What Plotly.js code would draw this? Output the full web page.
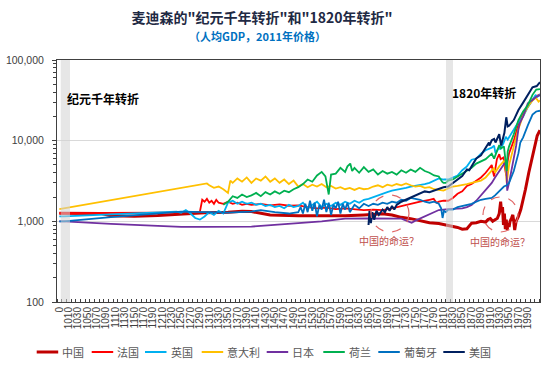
<!DOCTYPE html>
<html><head><meta charset="utf-8">
<script src="https://cdn.plot.ly/plotly-3.0.1.min.js"></script>
<style>html,body{margin:0;padding:0;background:#fff}#chart{width:554px;height:369px}</style>
</head><body><div id="chart"></div><script>
// x positions: "0" (year 1) sits at 990 on the axis
const tickYears = [990,1010,1030,1050,1070,1090,1110,1130,1150,1170,1190,1210,1230,1250,1270,1290,1310,1330,1350,1370,1390,1410,1430,1450,1470,1490,1510,1530,1550,1570,1590,1610,1630,1650,1670,1690,1710,1730,1750,1770,1790,1810,1830,1850,1870,1890,1910,1930,1950,1970,1990];
const tickLabels = ["0","1010","1030","1050","1070","1090","1110","1130","1150","1170","1190","1210","1230","1250","1270","1290","1310","1330","1350","1370","1390","1410","1430","1450","1470","1490","1510","1530","1550","1570","1590","1610","1630","1650","1670","1690","1710","1730","1750","1770","1790","1810","1830","1850","1870","1890","1910","1930","1950","1970","1990"];
const yTickVals = [100,1000,10000,100000];
const yTickText = ["100","1,000","10,000","100,000"];

const seriesNames = ["中国","法国","英国","意大利","日本","荷兰","葡萄牙","美国"];

const chinaYears = [990,1000,1060,1080,1100,1150,1200,1250,1300,1350,1380,1400,1420,1440,1500,1550,1600,1640,1660,1680,1700,1720,1740,1760,1780,1800,1820,1840,1850,1860,1870,1880,1890,1900,1905,1910,1915,1920,1925,1929,1932,1934,1936,1938,1940,1942,1944,1946,1948,1950,1952,1955,1958,1960,1962,1965,1970,1975,1978,1985,1992,2000,2006,2010,2016];
const chinaGDP   = [1260,1260,1260,1250,1170,1160,1180,1240,1280,1300,1330,1320,1250,1200,1170,1160,1170,1200,1230,1240,1200,1120,1080,1020,960,940,890,840,800,810,950,960,1000,980,1050,1080,1000,1050,1090,1250,1750,1300,1500,900,1250,800,1050,780,950,850,1000,1090,1200,1000,780,1000,1150,1400,1650,2500,4000,6500,9500,11500,13500];

const franceYears = [990,1000,1100,1200,1280,1290,1295,1300,1305,1310,1315,1320,1325,1330,1340,1350,1360,1370,1380,1390,1400,1420,1440,1460,1480,1500,1520,1540,1560,1580,1600,1620,1640,1660,1680,1700,1720,1740,1760,1780,1789,1795,1800,1810,1820,1830,1840,1850,1860,1870,1880,1890,1900,1913,1915,1918,1924,1929,1932,1938,1940,1944,1947,1950,1960,1970,1980,1990,2000,2008,2016];
const franceGDP   = [1260,1260,1260,1280,1300,1320,1850,1750,1900,1700,1800,1650,1850,1700,1650,1750,1650,1700,1600,1650,1600,1650,1580,1620,1560,1580,1500,1450,1480,1420,1450,1400,1380,1400,1380,1450,1550,1650,1750,1850,1900,1700,1750,1800,1800,1950,2200,2350,2750,2900,3200,3500,4000,5000,4300,3600,5900,6800,5900,6200,5000,3700,5600,7000,10000,16000,22000,27000,32000,35500,37500];

const ukYears = [990,1000,1100,1200,1240,1250,1260,1270,1280,1290,1300,1310,1320,1330,1340,1350,1360,1370,1380,1390,1400,1410,1420,1430,1440,1450,1460,1470,1480,1490,1500,1510,1520,1530,1540,1550,1560,1570,1580,1590,1600,1610,1620,1630,1640,1650,1660,1670,1680,1690,1700,1710,1720,1730,1740,1750,1760,1770,1780,1790,1800,1810,1820,1830,1840,1850,1860,1870,1880,1890,1900,1913,1918,1921,1929,1931,1938,1943,1947,1950,1960,1970,1980,1990,2000,2007,2009,2016];
const ukGDP   = [1150,1150,1220,1300,1320,1280,1380,1250,1100,1050,1150,1300,1200,1350,1250,1700,1800,1650,1750,1650,1700,1600,1650,1550,1600,1500,1550,1450,1600,1500,1550,1700,1450,1600,1750,1500,1650,1550,1700,1600,1750,1650,1800,1700,1850,1900,2000,2100,2200,2300,2400,2450,2550,2600,2700,2750,2800,2900,3000,3200,3400,3300,3300,3500,3700,4300,4800,5800,6000,6900,7600,8200,8700,7000,8300,7800,9300,11200,10300,11000,13800,17000,20000,26000,32000,37000,34500,37300];

const italyYears = [990,1305,1310,1320,1330,1340,1350,1355,1360,1370,1380,1390,1400,1410,1420,1430,1440,1450,1460,1470,1480,1490,1500,1510,1520,1530,1540,1550,1560,1570,1580,1590,1600,1610,1620,1630,1640,1650,1660,1670,1680,1690,1700,1710,1720,1730,1740,1750,1760,1770,1780,1790,1800,1810,1820,1830,1840,1850,1860,1870,1880,1890,1900,1913,1918,1920,1929,1939,1942,1945,1948,1950,1960,1970,1980,1990,2000,2007,2013,2016];
const italyGDP   = [1420,2950,2800,2600,2700,2500,2250,3200,3000,3400,3100,3500,3000,3400,3200,3600,3100,3400,3000,3300,2900,3200,2700,2900,2650,2850,2700,2900,2650,2750,2550,2650,2500,2600,2450,2600,2500,2550,2700,2800,2650,2850,2750,2900,2800,2950,2800,2700,2750,2600,2650,2500,2450,2400,2550,2700,2750,2800,2900,3000,3100,3200,3500,4300,4600,4000,4800,5600,5000,3000,4300,5000,8500,14000,20500,26500,31500,34000,30500,31500];

const japanYears = [990,1000,1100,1200,1250,1300,1400,1420,1450,1500,1550,1600,1650,1700,1720,1735,1742,1750,1760,1800,1820,1840,1850,1860,1870,1880,1890,1900,1913,1920,1929,1935,1940,1944,1945,1946,1950,1955,1960,1965,1970,1973,1980,1990,2000,2008,2016];
const japanGDP   = [1000,1000,930,870,855,855,860,880,900,950,1000,1080,1090,1090,1080,1000,960,1020,1080,1380,1420,1430,1450,1500,1600,1800,2100,2500,3000,3500,4200,4700,5200,4900,2800,2400,3000,4300,6000,8600,14000,16500,20000,29000,32000,35000,36500];

const nlYears = [1340,1350,1360,1370,1380,1390,1400,1410,1420,1430,1440,1450,1460,1470,1480,1490,1500,1510,1520,1530,1540,1550,1558,1565,1570,1580,1590,1600,1605,1611,1615,1620,1630,1640,1650,1660,1670,1680,1690,1700,1710,1720,1730,1740,1750,1760,1770,1780,1790,1800,1807,1810,1815,1820,1830,1840,1850,1860,1870,1880,1890,1900,1913,1918,1929,1933,1939,1944,1945,1947,1950,1960,1970,1980,1990,2000,2008,2016];
const nlGDP   = [1600,1750,2050,1950,2150,2000,2100,2250,2050,2300,2150,2350,2200,2400,2300,2500,2650,2900,3300,3100,3700,4100,3600,2150,3800,3900,4600,4100,4800,5200,4200,4600,4000,4700,4100,4400,3800,4200,3900,4100,3800,4300,4000,4400,4100,4600,4200,4000,3700,3600,3100,3000,3000,3200,3300,3600,3900,4200,4600,5200,5600,5900,6900,6000,8800,8000,8500,5000,4200,7300,8500,12000,18000,23000,27500,37000,43000,43500];

const portugalYears = [990,1000,1100,1200,1250,1300,1350,1400,1420,1450,1480,1500,1505,1510,1515,1520,1525,1530,1535,1540,1545,1550,1555,1560,1565,1570,1575,1580,1585,1590,1595,1600,1605,1610,1620,1630,1640,1650,1660,1670,1680,1690,1700,1710,1720,1730,1740,1750,1760,1770,1780,1790,1800,1805,1808,1811,1815,1820,1830,1840,1850,1860,1870,1880,1890,1900,1913,1920,1929,1939,1945,1950,1960,1970,1974,1980,1990,2000,2008,2016];
const portugalGDP   = [1000,1000,1130,1260,1320,1300,1280,1320,1380,1300,1250,1300,1500,1250,1650,1300,1800,1350,1700,1150,1600,1400,1850,1300,1700,1200,1600,1450,1750,1250,1650,1400,1700,1300,1600,1450,1650,1550,1650,1600,1700,1650,1750,1700,1850,1800,1950,1900,1850,1750,1700,1750,1650,1450,1100,1350,1300,1400,1400,1500,1550,1600,1650,1750,1850,1900,1950,2100,2400,2700,2800,3000,4200,7000,9500,11000,15500,21000,23000,23500];

const usaYears = [1650,1652,1655,1658,1662,1667,1672,1680,1685,1690,1695,1700,1705,1710,1720,1730,1740,1750,1760,1770,1780,1790,1800,1810,1820,1830,1840,1850,1860,1865,1870,1880,1890,1900,1907,1908,1913,1918,1921,1929,1933,1940,1944,1947,1950,1960,1970,1980,1990,2000,2009,2016];
const usaGDP   = [900,1350,950,1300,1050,1350,1200,1400,1300,1500,1350,1550,1400,1600,1750,1850,2000,2100,2200,2350,2300,2400,2550,2650,2700,3000,3300,3650,4400,4300,4800,6000,6600,8000,9500,8700,10100,10500,9500,12000,8700,12500,19500,15000,15300,18000,24000,29600,37000,45900,47500,53000];

const seriesX = [chinaYears,franceYears,ukYears,italyYears,japanYears,nlYears,portugalYears,usaYears];
const seriesY = [chinaGDP,franceGDP,ukGDP,italyGDP,japanGDP,nlGDP,portugalGDP,usaGDP];
const colors = ["#C00000","#FF0000","#00B0F0","#FFC000","#7030A0","#00B050","#0070C0","#002060"];
const widths = [3,1.8,1.8,1.8,1.8,1.8,1.8,2];

const traces = seriesNames.map((n,i)=>({
  type:'scatter', mode:'lines', name:n, x:seriesX[i], y:seriesY[i],
  line:{color:colors[i], width:widths[i]}, hoverinfo:'skip', showlegend:false
}));

const PL=57, PR=540, PT=60, PB=302;
const px = v => (v-PL)/(PR-PL);
const py = v => (PB-v)/(PB-PT);
const cjk = '"Noto Sans CJK SC", "Noto Sans", sans-serif';

// legend drawn as layout items (one row, like the original)
const legendX = [36.7, 91.7, 145, 201.7, 266.7, 323.3, 378.3, 443.3];
const legendY = 352;
const legendShapes = seriesNames.map((n,i)=>({type:'line', xref:'paper', yref:'paper',
  x0:px(legendX[i]), x1:px(legendX[i]+21.5), y0:py(legendY), y1:py(legendY),
  line:{color:colors[i], width:i===0?3:2}}));
const legendTexts = seriesNames.map((n,i)=>({text:n, xref:'paper', yref:'paper',
  x:px(legendX[i]+23.5), y:py(legendY), xanchor:'left', yanchor:'middle', showarrow:false,
  font:{family:cjk, size:11, color:'#595959'}}));

const layout = {
  width:554, height:369,
  margin:{l:PL, r:554-PR, t:PT, b:369-PB, pad:0},
  paper_bgcolor:'#fff', plot_bgcolor:'#fff',
  font:{family:cjk, size:11, color:'#404040'},
  title:{text:'麦迪森的"纪元千年转折"和"1820年转折"', font:{family:cjk, size:14, color:'#1F2A44', weight:'bold'},
         x:262/554, xanchor:'center', xref:'container', y:1-18/369, yanchor:'middle', yref:'container'},
  showlegend:false,
  xaxis:{type:'linear', range:[985,2016], tickmode:'array', tickvals:tickYears, ticktext:tickLabels, automargin:false,
         tickangle:-90, tickfont:{family:'"Liberation Sans", Arial, sans-serif', size:10, color:'#404040'},
         ticks:'', showgrid:false, zeroline:false, showline:true, linecolor:'#404040', linewidth:1, mirror:true,
         minor:{tickmode:'linear', tick0:985, dtick:10, ticks:'inside', ticklen:3, tickcolor:'#404040', showgrid:false}},
  yaxis:{type:'log', range:[2,5], tickmode:'array', tickvals:yTickVals, ticktext:yTickText, automargin:false,
         tickfont:{family:'"Liberation Sans", Arial, sans-serif', size:10.5, color:'#404040'}, ticklabelstandoff:6,
         ticks:'outside', ticklen:4, tickcolor:'#404040', showgrid:true, gridcolor:'#D9D9D9', gridwidth:1,
         zeroline:false, showline:true, linecolor:'#404040', linewidth:1, mirror:true,
         minor:{ticks:'outside', ticklen:3, tickcolor:'#404040', showgrid:false, dtick:'D1'}},
  shapes:[
    {type:'rect', xref:'paper', yref:'paper', x0:px(60.7), x1:px(70), y0:0, y1:1, fillcolor:'rgba(210,210,210,0.55)', line:{width:0}, layer:'above'},
    {type:'rect', xref:'paper', yref:'paper', x0:px(446), x1:px(453), y0:0, y1:1, fillcolor:'rgba(210,210,210,0.55)', line:{width:0}, layer:'above'},
    {type:'circle', xref:'paper', yref:'paper', x0:px(371), x1:px(409), y0:py(232), y1:py(195), line:{color:'#E06666', width:1.2, dash:'dash'}},
    {type:'circle', xref:'paper', yref:'paper', x0:px(483), x1:px(518), y0:py(232), y1:py(197), line:{color:'#E06666', width:1.2, dash:'dash'}}
  ].concat(legendShapes),
  annotations:[
    {text:'（人均GDP，2011年价格）', xref:'paper', yref:'paper', x:px(257), y:py(36), xanchor:'center', yanchor:'middle', showarrow:false, font:{family:cjk, size:11, color:'#0070C0', weight:'bold'}},
    {text:'纪元千年转折', xref:'paper', yref:'paper', x:px(65), y:py(98), xanchor:'left', yanchor:'middle', showarrow:false, font:{family:cjk, size:12, color:'#000', weight:'bold'}},
    {text:'1820年转折', xref:'paper', yref:'paper', x:px(450), y:py(92), xanchor:'left', yanchor:'middle', showarrow:false, font:{family:cjk, size:12, color:'#000', weight:'bold'}},
    {text:'中国的命运？', xref:'paper', yref:'paper', x:px(389), y:py(240), xanchor:'center', yanchor:'middle', showarrow:false, font:{family:cjk, size:10, color:'#C0504D'}},
    {text:'中国的命运？', xref:'paper', yref:'paper', x:px(500), y:py(241), xanchor:'center', yanchor:'middle', showarrow:false, font:{family:cjk, size:10, color:'#C0504D'}}
  ].concat(legendTexts)
};
Plotly.newPlot('chart', traces, layout, {displayModeBar:false, staticPlot:true});
</script></body></html>
